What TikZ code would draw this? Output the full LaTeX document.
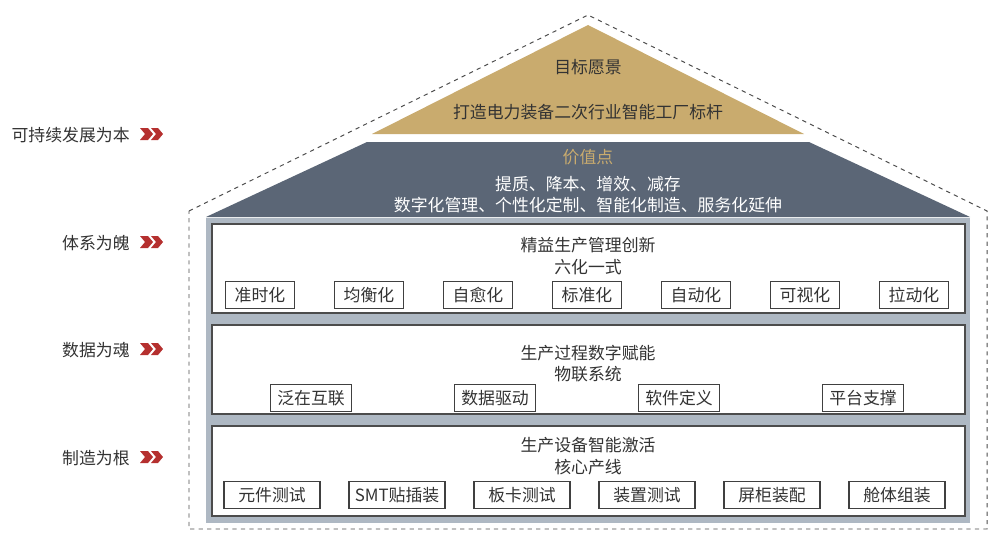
\documentclass[tikz,border=0pt]{standalone}
\usepackage{fontspec}
\setmainfont{Noto Sans CJK SC}
\usepackage{xcolor}
\usepackage{tikz}
\usetikzlibrary{positioning,calc}
\definecolor{goldroof}{HTML}{C9AB6E}
\definecolor{slateroof}{HTML}{5B6676}
\definecolor{wallgray}{HTML}{AEB8C3}
\definecolor{chevronred}{HTML}{B5302F}
\definecolor{inkgray}{HTML}{333333}
\tikzset{
    % Le style du cadre blanc de chaque etage
    floor/.style={
        fill=white,
        draw=black!70,
        line width=1.2pt
    },
    % Le style des petites cases dans les etages
    item/.style={
        draw=black!75,
        fill=white,
        line width=0.8pt,
        inner sep=0pt,
        minimum height=0.66cm,
        text=inkgray,
        font=\fontsize{12}{14}\selectfont
    },
    % Le style des textes
    label/.style={
        text=inkgray,
        inner sep=0pt,
        font=\fontsize{12}{14}\selectfont
    },
    chevron/.style={
        fill=chevronred
    }
}

\begin{document}
\begin{tikzpicture}[x=0.025cm,y=-0.025cm]
        \useasboundingbox (0,0) rectangle (1000,545);

        % --- 1. Le contour pointille de la maison ---
        \draw[dashed, black!70, line width=0.7pt] (189,211) -- (588,15) -- (987,211)
            -- (987,529) -- (189,529) -- cycle;

        % --- 2. Le toit : vision et valeurs ---
        \fill[goldroof] (372,134) -- (588,25) -- (804,134) -- cycle;
        \node[label] (vision) at (588,67) {目标愿景};
        \node[label] (goal) at (588,112) {打造电力装备二次行业智能工厂标杆};

        \fill[slateroof] (367,142) -- (809,142) -- (970,217) -- (206,217) -- cycle;
        \node[label, text=goldroof] (value) at (588,157) {价值点};
        \node[label, text=white] (valueA) at (588,184) {提质、降本、增效、减存};
        \node[label, text=white] (valueB) at (588,205) {数字化管理、个性化定制、智能化制造、服务化延伸};

        % --- 3. Les murs et les trois etages ---
        \fill[wallgray] (206,218) rectangle (970,523);
        \draw[floor] (212,224) rectangle (965,313);
        \draw[floor] (212,325) rectangle (965,414);
        \draw[floor] (212,426) rectangle (965,516);

        % Etage du haut : lean
        \node[label] (lean) at (588,245) {精益生产管理创新};
        \node[label] (leansub) at (588,267) {六化一式};
        \node[item, minimum width=1.72cm] (jit) at (260,295) {准时化};
        \node[item, minimum width=1.72cm] (balance) at (369,295) {均衡化};
        \node[item, minimum width=1.72cm] (selfheal) at (478,295) {自愈化};
        \node[item, minimum width=1.72cm] (standard) at (587,295) {标准化};
        \node[item, minimum width=1.72cm] (auto) at (696,295) {自动化};
        \node[item, minimum width=1.72cm] (visual) at (805,295) {可视化};
        \node[item, minimum width=1.72cm] (pull) at (914,295) {拉动化};

        % Etage du milieu : donnees
        \node[label] (data) at (588,353) {生产过程数字赋能};
        \node[label] (datasub) at (588,374) {物联系统};
        \node[item, minimum width=2.02cm] (iot) at (311,398) {泛在互联};
        \node[item, minimum width=2.02cm] (drive) at (495,398) {数据驱动};
        \node[item, minimum width=2.02cm] (soft) at (679,398) {软件定义};
        \node[item, minimum width=2.02cm] (platform) at (863,398) {平台支撑};

        % Etage du bas : fabrication
        \node[label] (make) at (588,445) {生产设备智能激活};
        \node[label] (makesub) at (588,467) {核心产线};
        \node[item, minimum width=2.4cm] (parts) at (272,495) {元件测试};
        \node[item, minimum width=2.4cm] (smt) at (397,495) {SMT贴插装};
        \node[item, minimum width=2.4cm] (board) at (522,495) {板卡测试};
        \node[item, minimum width=2.4cm] (device) at (647,495) {装置测试};
        \node[item, minimum width=2.4cm] (cabinet) at (772,495) {屏柜装配};
        \node[item, minimum width=2.4cm] (cabin) at (897,495) {舱体组装};

        % --- 4. Les titres a gauche avec les doubles chevrons ---
        \def\chevronshape{
            (0,-6) -- (8,-6) -- (13,0) -- (8,6) -- (0,6) -- (5,0) -- cycle
            (11,-6) -- (18,-6) -- (23,0) -- (18,6) -- (11,6) -- (16,0) -- cycle
        }
        \node[label, anchor=east] (base) at (130,135) {可持续发展为本};
        \node[label, anchor=east] (system) at (130,243) {体系为魄};
        \node[label, anchor=east] (soul) at (130,350) {数据为魂};
        \node[label, anchor=east] (root) at (130,458) {制造为根};
        \fill[chevron,shift={(140,134)}] \chevronshape;
        \fill[chevron,shift={(140,242)}] \chevronshape;
        \fill[chevron,shift={(140,349)}] \chevronshape;
        \fill[chevron,shift={(140,457)}] \chevronshape;
    \end{tikzpicture}
\end{document}
